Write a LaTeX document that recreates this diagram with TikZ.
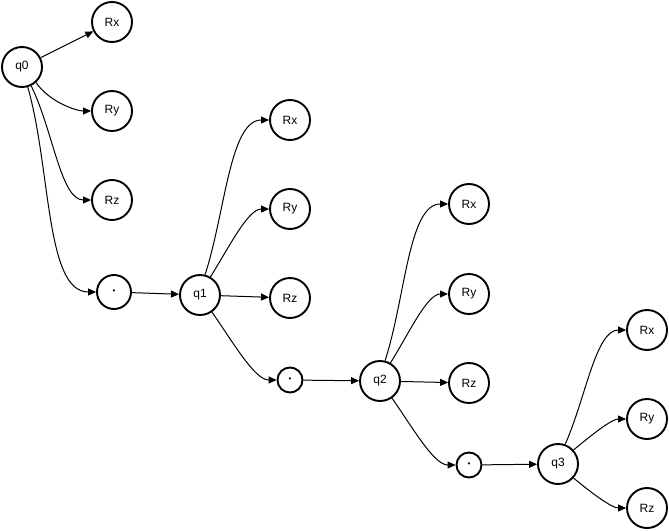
\documentclass[tikz,border=0pt]{standalone}
\usepackage{fontspec}
\setmainfont{Liberation Sans}
\usetikzlibrary{arrows.meta}
\tikzstyle{qubit} = [circle, draw=black, line width=1.9pt, minimum size=40pt, inner sep=0pt, font=\fontsize{12}{14}\selectfont]
\tikzstyle{rot} = [circle, draw=black, line width=1.9pt, minimum size=40pt, inner sep=0pt, font=\fontsize{12}{14}\selectfont]
\tikzstyle{prod} = [circle, draw=black, line width=1.9pt, minimum size=25pt, inner sep=0pt, font=\fontsize{8}{8}\selectfont]
\tikzstyle{arrow} = [line width=1pt, -{Triangle[length=8pt,width=7pt]}, in looseness=0.6]

\begin{document}
\begin{tikzpicture}[x=1pt, y=-1pt]
      \useasboundingbox (0,0) rectangle (669,530);

      % First block
      \node[qubit] (q0) at (22,67) {q0};
      \node[rot] (rx0) at (112,22) {Rx};
      \node[rot] (ry0) at (112,111) {Ry};
      \node[rot] (rz0) at (112,200) {Rz};
      \node[prod, minimum size=34pt] (dot0) at (114,292) {•};

      % Second block
      \node[qubit] (q1) at (200,295) {q1};
      \node[rot] (rx1) at (290,120) {Rx};
      \node[rot] (ry1) at (290,209) {Ry};
      \node[rot] (rz1) at (290,298) {Rz};
      \node[prod] (dot1) at (290,380) {•};

      % Third block
      \node[qubit] (q2) at (380,381) {q2};
      \node[rot] (rx2) at (469,204) {Rx};
      \node[rot] (ry2) at (469,294) {Ry};
      \node[rot] (rz2) at (469,383) {Rz};
      \node[prod] (dot2) at (469,465) {•};

      % Fourth block
      \node[qubit] (q3) at (558,464) {q3};
      \node[rot] (rx3) at (647,330) {Rx};
      \node[rot] (ry3) at (647,419) {Ry};
      \node[rot] (rz3) at (647,508) {Rz};

      % Edges from q0
      \draw[arrow] (q0) -- (rx0);
      \draw[arrow] (q0.-48) to[out=-55, in=180] (ry0);
      \draw[arrow] (q0.-64) to[out=-64, in=180] (rz0);
      \draw[arrow] (q0.-74) to[out=-74, in=180] (dot0);
      \draw[arrow] (dot0) -- (q1);

      % Edges from q1
      \draw[arrow] (q1.76) to[out=72, in=180] (rx1);
      \draw[arrow] (q1.60) to[out=58, in=180] (ry1);
      \draw[arrow] (q1) -- (rz1);
      \draw[arrow] (q1.-55) to[out=-55, in=180] (dot1);
      \draw[arrow] (dot1) -- (q2);

      % Edges from q2
      \draw[arrow] (q2.76) to[out=72, in=180] (rx2);
      \draw[arrow] (q2.60) to[out=58, in=180] (ry2);
      \draw[arrow] (q2) -- (rz2);
      \draw[arrow] (q2.-55) to[out=-55, in=180] (dot2);
      \draw[arrow] (dot2) -- (q3);

      % Edges from q3
      \draw[arrow] (q3.70) to[out=66, in=180] (rx3);
      \draw[arrow] (q3.42) to[out=40, in=180] (ry3);
      \draw[arrow] (q3.-42) to[out=-40, in=180] (rz3);
    \end{tikzpicture}
\end{document}
